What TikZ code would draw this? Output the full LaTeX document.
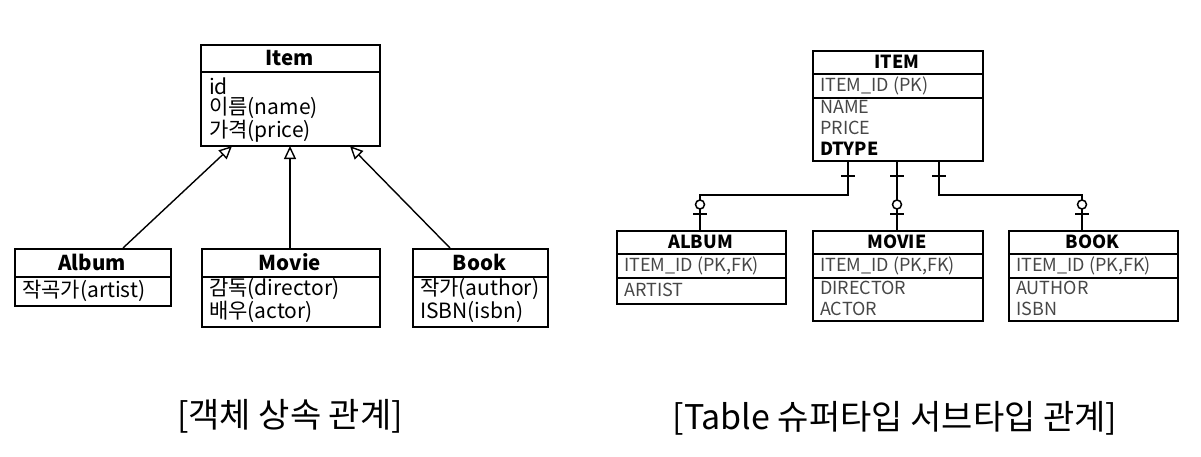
\documentclass[tikz,border=0pt]{standalone}
\usepackage{fontspec}
\setmainfont{Noto Sans CJK KR}
\usetikzlibrary{arrows.meta}
\begin{document}
\begin{tikzpicture}[x=1pt,y=-1pt,
  box/.style={draw,line width=1.6pt,anchor=north west,inner sep=0pt},
  hd/.style={font=\fontsize{20.5}{20}\selectfont\bfseries},
  fl/.style={anchor=west,inner sep=0pt,font=\fontsize{21}{21}\selectfont},
  tf/.style={anchor=west,inner sep=0pt,font=\fontsize{18}{18}\selectfont,text=black!72},
  th/.style={font=\fontsize{18}{18}\selectfont\bfseries},
  inh/.style={line width=1.4pt,-{Triangle[open,length=13pt,width=12pt]}},
  rel/.style={line width=1.5pt},
  captxt/.style={font=\fontsize{34}{34}\selectfont}]
\useasboundingbox (0,0) rectangle (1201,456);
% ---------- left: class diagram
\node[box,minimum width=179,minimum height=101] (item) at (200,44) {};
\draw[line width=1.3pt] (200,72) -- (379,72);
\node[hd] (itemh) at (289.5,58) {Item};
\node[fl] (i1) at (209,86) {id};
\node[fl] (i2) at (209,108) {이름(name)};
\node[fl] (i3) at (209,131) {가격(price)};

\node[box,minimum width=156,minimum height=57] (album) at (14,248) {};
\draw[line width=1.3pt] (14,277) -- (170,277);
\node[hd] (albumh) at (92,262) {Album};
\node[fl] (a1) at (22,291) {작곡가(artist)};

\node[box,minimum width=178,minimum height=78] (movie) at (201,248) {};
\draw[line width=1.3pt] (201,277) -- (379,277);
\node[hd] (movieh) at (290,262) {Movie};
\node[fl] (m1) at (209,289) {감독(director)};
\node[fl] (m2) at (209,312) {배우(actor)};

\node[box,minimum width=135,minimum height=78] (book) at (412,248) {};
\draw[line width=1.3pt] (412,277) -- (547,277);
\node[hd] (bookh) at (479.5,262) {Book};
\node[fl] (b1) at (420,289) {작가(author)};
\node[fl] (b2) at (420,312) {ISBN(isbn)};

\coordinate (ia) at (232,146);
\coordinate (im) at (290,146);
\coordinate (ib) at (350,146);
\coordinate (aa) at (123,248);
\coordinate (ma) at (290,248);
\coordinate (ba) at (450,248);
\draw[inh] (aa) -- (ia);
\draw[inh] (ma) -- (im);
\draw[inh] (ba) -- (ib);

% ---------- right: table diagram
\node[box,minimum width=170,minimum height=110] (ITEM) at (812,50) {};
\draw[line width=1.3pt] (812,74) -- (982,74) (812,98) -- (982,98);
\node[th] (ITEMh) at (897,62) {ITEM};
\node[tf] (I1) at (820,86) {ITEM\_ID (PK)};
\node[tf] (I2) at (820,107) {NAME};
\node[tf] (I3) at (820,128) {PRICE};
\node[tf,text=black,font=\fontsize{18}{18}\selectfont\bfseries] (I4) at (820,149) {DTYPE};

\node[box,minimum width=169,minimum height=73] (ALBUM) at (616,230) {};
\draw[line width=1.3pt] (616,254) -- (785,254) (616,278) -- (785,278);
\node[th] (ALBUMh) at (700.5,242) {ALBUM};
\node[tf] (A1) at (624,266) {ITEM\_ID (PK,FK)};
\node[tf] (A2) at (624,290) {ARTIST};

\node[box,minimum width=170,minimum height=90] (MOVIE) at (812,230) {};
\draw[line width=1.3pt] (812,254) -- (982,254) (812,278) -- (982,278);
\node[th] (MOVIEh) at (897,242) {MOVIE};
\node[tf] (M1) at (820,266) {ITEM\_ID (PK,FK)};
\node[tf] (M2) at (820,288) {DIRECTOR};
\node[tf] (M3) at (820,309) {ACTOR};

\node[box,minimum width=169,minimum height=90] (BOOK) at (1008,230) {};
\draw[line width=1.3pt] (1008,254) -- (1177,254) (1008,278) -- (1177,278);
\node[th] (BOOKh) at (1092.5,242) {BOOK};
\node[tf] (B1) at (1016,266) {ITEM\_ID (PK,FK)};
\node[tf] (B2) at (1016,288) {AUTHOR};
\node[tf] (B3) at (1016,309) {ISBN};

\draw[rel] (848,160) -- (848,195) -- (700,195) -- (700,200);
\draw[rel] (897,160) -- (897,200);
\draw[rel] (939,160) -- (939,195) -- (1082,195) -- (1082,200);
\foreach \x in {700,897,1082} \draw[rel] (\x,209) -- (\x,230);
\foreach \x in {848,897,939} \draw[rel] (\x-7,176) -- (\x+7,176);
\foreach \x in {700,897,1082} {
  \draw[rel,fill=white] (\x,204.5) circle (4.5);
  \draw[rel] (\x-7,214) -- (\x+7,214);
}

% ---------- captions
\node[captxt] (c1) at (290,416) {[객체 상속 관계]};
\node[captxt] (c2) at (895,418) {[Table 슈퍼타입 서브타입 관계]};
\end{tikzpicture}
\end{document}
